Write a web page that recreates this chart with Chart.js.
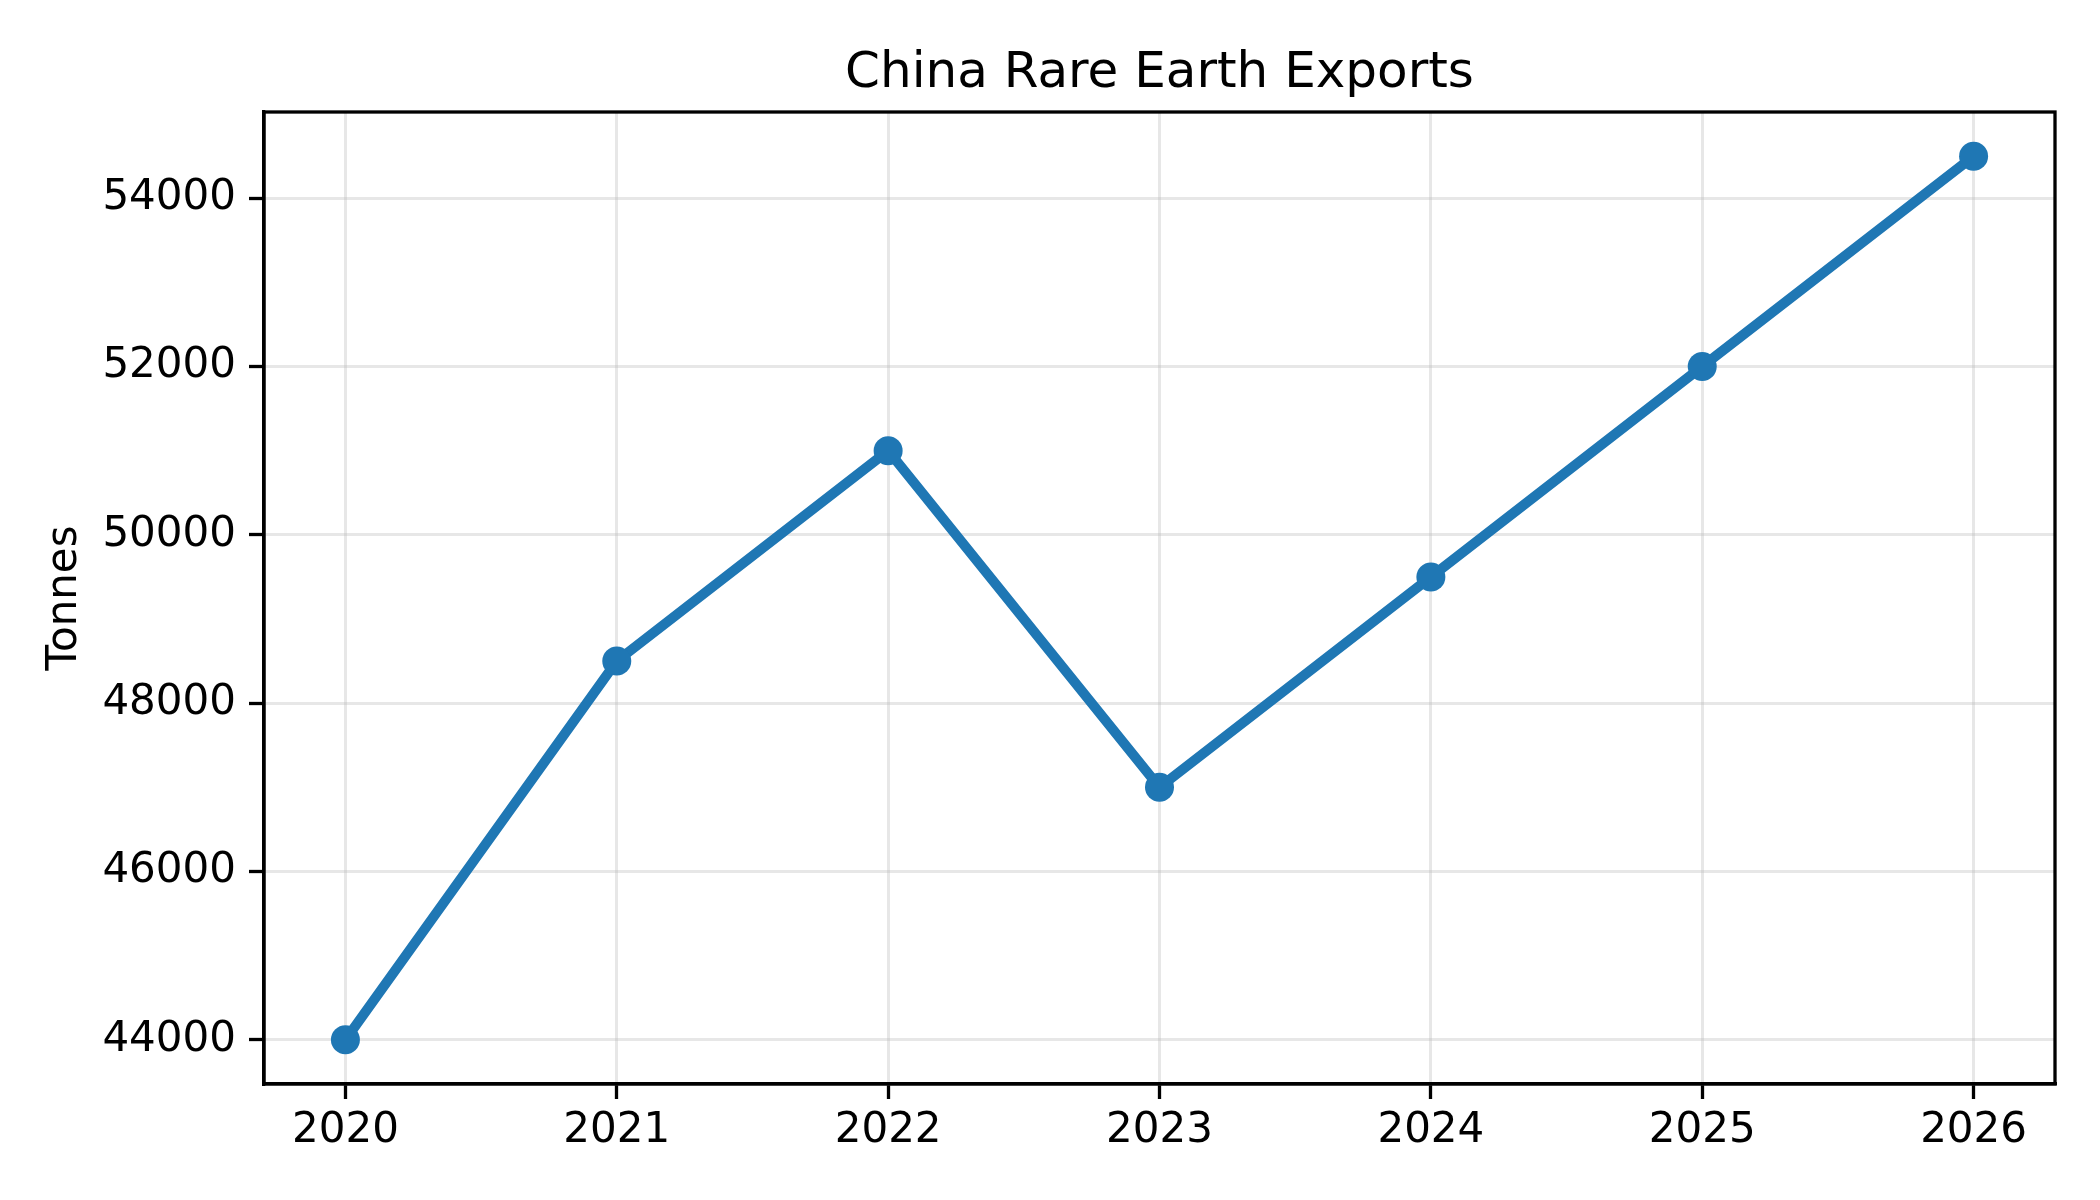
<!DOCTYPE html>
<html>
<head>
<meta charset="utf-8">
<script src="https://cdn.jsdelivr.net/npm/chart.js@4"></script>
<style>
  html, body { margin: 0; padding: 0; background: #fff; }
  #wrap { width: 2100px; height: 1200px; }
</style>
</head>
<body>
<div id="wrap"><canvas id="exportsChart" width="2100" height="1200"></canvas></div>
<script>
// data
const years = [2020, 2021, 2022, 2023, 2024, 2025, 2026];
const tonnes = [44000, 48500, 51000, 47000, 49500, 52000, 54500];
const yTicks = [44000, 46000, 48000, 50000, 52000, 54000];

const FONT = '"DejaVu Sans", sans-serif';

// matplotlib-like frame: draw all four spines on top
const framePlugin = {
    id: 'frame',
    afterDraw(chart) {
        const a = chart.chartArea;
        const c = chart.ctx;
        c.save();
        c.strokeStyle = '#000';
        c.lineWidth = 3.3;
        c.strokeRect(a.left, a.top, a.right - a.left, a.bottom - a.top);
        c.restore();
    }
};

document.addEventListener('DOMContentLoaded', function () {
    const ctx = document.getElementById('exportsChart').getContext('2d');

    const data = {
        datasets: [{
            label: 'Tonnes',
            data: years.map((y, i) => ({ x: y, y: tonnes[i] })),
            borderColor: '#1f77b4',
            backgroundColor: '#1f77b4',
            borderWidth: 10,
            borderJoinStyle: 'round',
            pointRadius: 14.5,
            pointBorderWidth: 0,
            pointBackgroundColor: '#1f77b4',
            tension: 0
        }]
    };

    const gridStyle = {
        color: 'rgba(176,176,176,0.3)',
        lineWidth: 3,
        tickColor: '#000',
        tickWidth: 3.3,
        tickLength: 15
    };

    const config = {
        type: 'line',
        data: data,
        options: {
            responsive: false,
            animation: false,
            devicePixelRatio: 1,
            layout: { padding: { left: 0, right: 45, top: 0, bottom: 0 } },
            plugins: {
                legend: { display: false },
                tooltip: { enabled: false },
                title: {
                    display: true,
                    fullSize: false,
                    text: 'China Rare Earth Exports',
                    color: '#000',
                    font: { family: FONT, size: 50, weight: 'normal', lineHeight: 1.2 },
                    padding: { top: 44, bottom: 8 }
                }
            },
            scales: {
                x: {
                    type: 'linear',
                    min: 2019.7,
                    max: 2026.3,
                    afterBuildTicks: s => { s.ticks = years.map(v => ({ value: v })); },
                    afterFit: s => { s.height = 116; },
                    grid: gridStyle,
                    border: { display: true, color: '#000', width: 3.3 },
                    ticks: {
                        color: '#000',
                        font: { family: FONT, size: 42 },
                        padding: 7,
                        maxRotation: 0,
                        callback: v => String(v)
                    }
                },
                y: {
                    type: 'linear',
                    min: 43475,
                    max: 55025,
                    afterBuildTicks: s => { s.ticks = yTicks.map(v => ({ value: v })); },
                    afterFit: s => { s.width = 264; },
                    grid: gridStyle,
                    border: { display: true, color: '#000', width: 3.3 },
                    title: {
                        display: true,
                        text: 'Tonnes',
                        color: '#000',
                        font: { family: FONT, size: 42, lineHeight: 1 },
                        padding: { top: 44, bottom: 0 }
                    },
                    ticks: {
                        color: '#000',
                        font: { family: FONT, size: 42 },
                        padding: 13,
                        callback: v => String(v)
                    }
                }
            }
        },
        plugins: [framePlugin]
    };

    new Chart(ctx, config);
});
</script>
</body>
</html>
